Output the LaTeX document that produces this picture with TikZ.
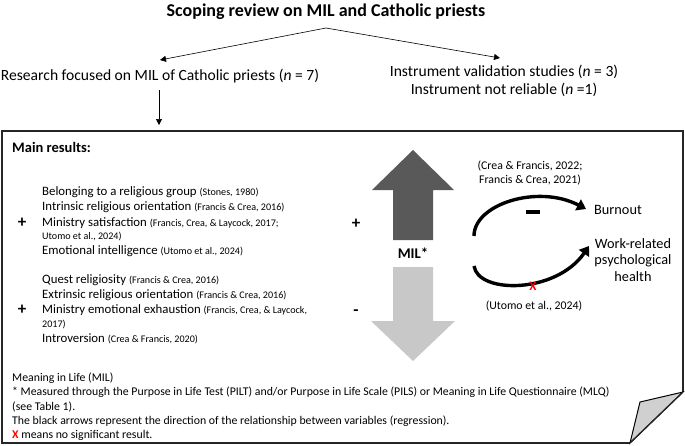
\documentclass[tikz,border=0pt]{standalone}
\usepackage{fontspec}
\setmainfont{Carlito}
\usetikzlibrary{arrows.meta}
\definecolor{darkarrow}{HTML}{595959}
\definecolor{lightarrow}{HTML}{C8C8C8}
\definecolor{foldgray}{HTML}{D0D0D0}
\definecolor{xred}{HTML}{FF0000}
\newcommand{\cit}{\fontsize{10.1}{12}\selectfont}
\tikzset{
  txt/.style={inner sep=0pt, font=\fontsize{15.6}{18}\selectfont},
  lab/.style={inner sep=0pt, font=\fontsize{14.3}{17}\selectfont},
  item/.style={anchor=west, inner sep=0pt, font=\fontsize{12.8}{15}\selectfont},
  foot/.style={anchor=west, inner sep=0pt, font=\fontsize{11.8}{14}\selectfont},
  sign/.style={inner sep=0pt, font=\bfseries\fontsize{17}{17}\selectfont},
  thinarrow/.style={draw=black, line width=0.6pt, -{Triangle[length=6pt,width=6pt]}},
  curvearrow/.style={draw=black, line width=3.4pt, -{Triangle[length=9pt,width=12pt]}},
}
\begin{document}
\begin{tikzpicture}[x=1pt,y=-1pt]
\useasboundingbox (0,0) rectangle (685,445);
% top
\node[inner sep=0pt, font=\bfseries\fontsize{18}{20}\selectfont] (title) at (326,12) {Scoping review on MIL and Catholic priests};
\coordinate (apex) at (326,28);
\node[txt] (left) at (160,76) {Research focused on MIL of Catholic priests (\textit{n} = 7)};
\node[txt, align=center] (right) at (504,81) {Instrument validation studies (\textit{n} = 3)\\Instrument not reliable (\textit{n} =1)};
\coordinate (ltip) at (160,60);
\coordinate (rtip) at (500,58);
\draw[thinarrow] (apex) -- (ltip);
\draw[thinarrow] (apex) -- (rtip);
\coordinate (vstart) at (159,90);
\coordinate (vend) at (159,125);
\draw[thinarrow] (vstart) -- (vend);
% main box
\draw[line width=1.3pt, draw=black!85, line join=miter] (630,443) -- (2,443) -- (2,131) -- (683,131) -- (683,392);
\draw[line width=1pt, fill=foldgray, line join=miter] (683,392) -- (640,402) -- (630,443) -- cycle;
\draw[line width=1.3pt, draw=black!85] (683,392) -- (630,443);
\node[anchor=west, inner sep=0pt, font=\bfseries\fontsize{14.5}{16}\selectfont] (main) at (12,147) {Main results:};
% upper group
\node[item] (u1) at (42,192) {Belonging to a religious group {\cit (Stones, 1980)}};
\node[item] (u2) at (42,207.5) {Intrinsic religious orientation {\cit (Francis \& Crea, 2016)}};
\node[item] (u3) at (42,223) {Ministry satisfaction {\cit (Francis, Crea, \& Laycock, 2017;}};
\node[item] (u4) at (42,237) {\cit Utomo et al., 2024)};
\node[item] (u5) at (42,251) {Emotional intelligence {\cit (Utomo et al., 2024)}};
\node[sign] (p1) at (22,223) {+};
% lower group
\node[item] (l1) at (42,280) {Quest religiosity {\cit (Francis \& Crea, 2016)}};
\node[item] (l2) at (42,295) {Extrinsic religious orientation {\cit (Francis \& Crea, 2016)}};
\node[item] (l3) at (42,310) {Ministry emotional exhaustion {\cit (Francis, Crea, \& Laycock,}};
\node[item] (l4) at (42,324) {\cit 2017)};
\node[item] (l5) at (42,339) {Introversion {\cit (Crea \& Francis, 2020)}};
\node[sign] (p2) at (22,310) {+};
% middle signs
\node[sign] (pm) at (356,224) {+};
\node[sign] (mm) at (356,313) {-};
% big arrows
\fill[darkarrow] (393,240) -- (393,190) -- (372,190) -- (413,150) -- (454,190) -- (433,190) -- (433,240) -- cycle;
\fill[lightarrow] (393,267) -- (433,267) -- (433,321) -- (455,321) -- (413,361) -- (371,321) -- (393,321) -- cycle;
\node[inner sep=0pt, font=\bfseries\fontsize{14.8}{16}\selectfont] (mil) at (413,253) {MIL*};
% right side
\node[inner sep=0pt, align=center, font=\fontsize{11.8}{14}\selectfont] (cite1) at (530,173) {(Crea \& Francis, 2022;\\Francis \& Crea, 2021)};
\node[lab] (burn) at (618,210) {Burnout};
\node[lab, align=center, font=\fontsize{14.3}{16.5}\selectfont] (work) at (633,260) {Work-related\\psychological\\health};
\node[inner sep=0pt, font=\fontsize{11.8}{14}\selectfont] (cite2) at (534,306) {(Utomo et al., 2024)};
\coordinate (a1s) at (474,236);
\coordinate (a1e) at (586,209);
\draw[curvearrow] (a1s) .. controls (474,204) and (538,184) .. (a1e);
\node[inner sep=0pt] (minus) at (533,212) {\rule{14pt}{3.4pt}};
\coordinate (a2s) at (474,266);
\coordinate (a2e) at (589,246);
\draw[curvearrow] (a2s) .. controls (478,294) and (556,294) .. (a2e);
\node[inner sep=0pt, text=xred, font=\bfseries\fontsize{13}{13}\selectfont] (xmark) at (533,286) {X};
% footer
\node[foot] (f1) at (12,378) {Meaning in Life (MIL)};
\node[foot] (f2) at (12,392) {* Measured through the Purpose in Life Test (PILT) and/or Purpose in Life Scale (PILS) or Meaning in Life Questionnaire (MLQ)};
\node[foot] (f3) at (12,406.5) {(see Table 1).};
\node[foot] (f4) at (12,421) {The black arrows represent the direction of the relationship between variables (regression).};
\node[foot] (f5) at (12,435) {{\bfseries\color{xred}X} means no significant result.};
\end{tikzpicture}
\end{document}
